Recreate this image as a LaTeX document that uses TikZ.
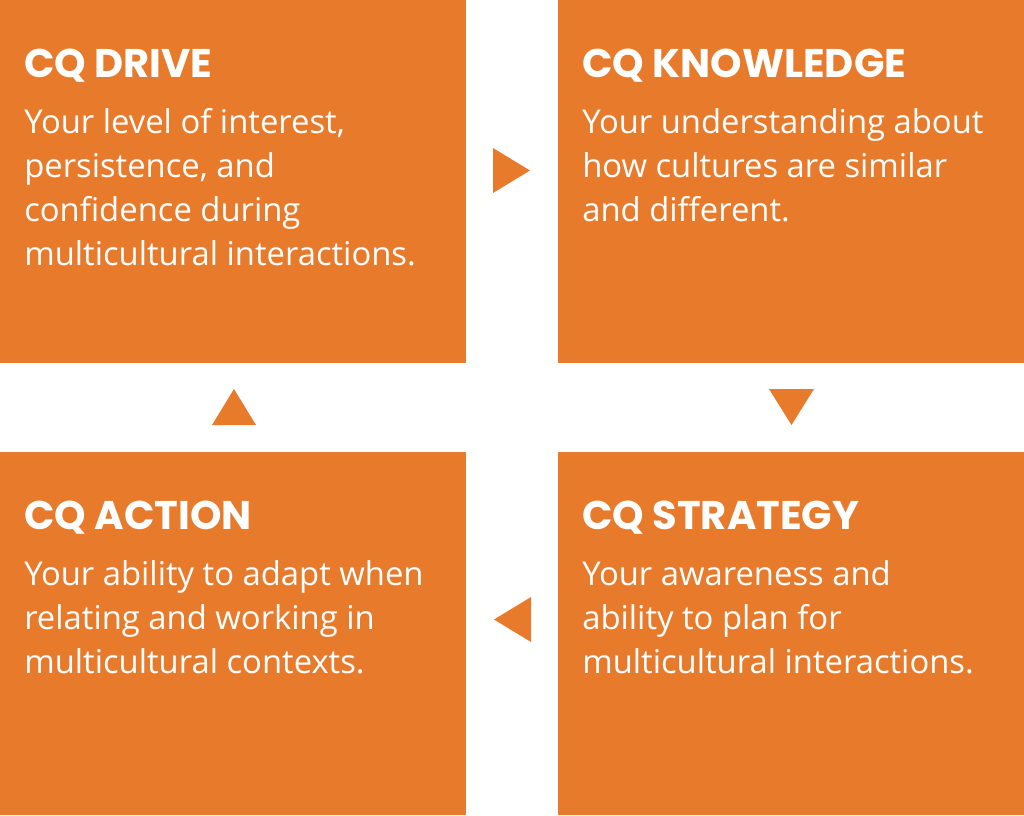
\documentclass[tikz,border=0pt]{standalone}
\usepackage{fontspec}
\setmainfont{Open Sans}
\newfontfamily\headfont{Poppins}
\usepackage{tikz}
\usetikzlibrary{positioning}
\definecolor{cqorange}{HTML}{E87A2C}

\begin{document}
\begin{tikzpicture}[x=0.75pt,y=-0.75pt,inner sep=0pt,
  box/.style={fill=cqorange,anchor=north west,minimum width=349.5pt,minimum height=272pt},
  head/.style={anchor=base west,text=white,font=\headfont\bfseries\fontsize{30}{32}\selectfont},
  body/.style={anchor=base west,text=white,align=left,font=\fontsize{24.6}{33}\selectfont},
  tri/.style={fill=cqorange}]
\useasboundingbox (0,0) rectangle (1024,815);
% the four boxes
\node[box] (D) at (0,0) {};
\node[box] (K) at (558,0) {};
\node[box] (A) at (0,452) {};
\node[box] (S) at (558,452) {};
% titles and texts (body nodes sit on their last line)
\node[head] (DT) at (24,77) {CQ DRIVE};
\node[body] (DB) at (24,265) {Your level of interest,\\persistence, and\\confidence during\\multicultural interactions.};
\node[head] (KT) at (582,77) {CQ KNOWLEDGE};
\node[body] (KB) at (582,221) {Your understanding about\\how cultures are similar\\and different.};
\node[head] (AT) at (24,529) {CQ ACTION};
\node[body] (AB) at (24,673) {Your ability to adapt when\\relating and working in\\multicultural contexts.};
\node[head] (ST) at (582,529) {CQ STRATEGY};
\node[body] (SB) at (582,673) {Your awareness and\\ability to plan for\\multicultural interactions.};
% triangles between the boxes
\fill[tri] (493,148) -- (530,170.5) -- (493,193) -- cycle;
\fill[tri] (769,389) -- (814,389) -- (791.5,425) -- cycle;
\fill[tri] (531,597) -- (494,619.5) -- (531,642) -- cycle;
\fill[tri] (212,425) -- (256,425) -- (234,389) -- cycle;
\end{tikzpicture}
\end{document}
